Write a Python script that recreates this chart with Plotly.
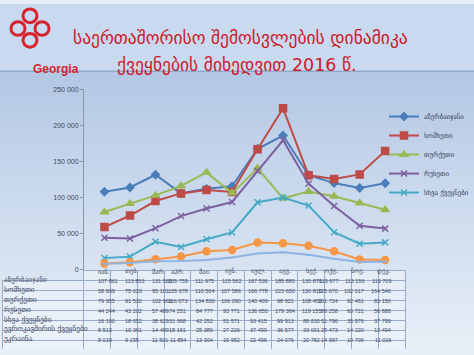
import plotly.graph_objects as go

months = ["იან.", "თებ.", "მარ.", "აპრ.", "მაი.", "ივნ.", "ივლ.", "აგვ.", "სექ.", "ოქტ.", "ნოე.", "დეკ."]
countries = ["აზერბაიჯანი", "სომხეთი", "თურქეთი", "რუსეთი", "სხვა ქვეყნები", "ევროკავშირის ქვეყნები", "უკრაინა"]
azerbaijan = [107861, 113853, 131565, 105759, 111975, 115562, 167536, 185880, 130870, 119977, 113156, 119709]
armenia = [58999, 75033, 95101, 105678, 110564, 107586, 166778, 223650, 130815, 125670, 132017, 164546]
turkey = [79955, 91532, 102963, 116073, 134830, 106090, 140409, 98921, 108453, 101724, 92461, 83150]
russia = [44244, 43202, 57489, 74251, 84777, 93771, 136650, 179364, 119155, 88258, 60721, 56888]
other = [16190, 18052, 38629, 31368, 42252, 51571, 93415, 99913, 88830, 51796, 35976, 37799]
eu = [8513, 10361, 14489, 18161, 25389, 27226, 37499, 36577, 33001, 25473, 14220, 13494]
ukraine = [8019, 9155, 11501, 11854, 13304, 16952, 22496, 24076, 20782, 14997, 10706, 11016]
yticks = [0, 50000, 100000, 150000, 200000, 250000]

series = [azerbaijan, armenia, turkey, russia, other, eu, ukraine]
colors = ["#4a7ebb", "#be4b48", "#98b954", "#7d60a0", "#46aac5", "#f79646", "#8eb4e3"]
symbols = ["diamond", "square", "triangle-up", "x-thin", "x-thin", "circle", "line-ew"]
msizes = [6, 7, 7, 6, 6, 7, 4]

W, H = 474, 355
def py(p):
    return 1 - p / H
def px(p):
    return p / W

def fmt(v):
    return "{:,}".format(v).replace(",", " ")

fig = go.Figure()

shapes = []
annotations = []
# background gradient bands
top, bot = 69, 355
n = 40
c1 = (180, 200, 229)
c2 = (232, 239, 248)
for i in range(n):
    t = i / (n - 1)
    c = tuple(int(c1[k] + (c2[k] - c1[k]) * t) for k in range(3))
    y0 = top + (bot - top) * i / n
    y1 = top + (bot - top) * (i + 1) / n + 0.5
    shapes.append(dict(type="rect", xref="paper", yref="paper", x0=0, x1=1,
                       y0=py(y1), y1=py(y0), fillcolor="rgb(%d,%d,%d)" % c,
                       line=dict(width=0), layer="below"))
# header band
shapes.append(dict(type="rect", xref="paper", yref="paper", x0=0, x1=1, y0=py(68), y1=1,
                   fillcolor="#c9d9ef", line=dict(width=0), layer="below"))
shapes.append(dict(type="line", xref="paper", yref="paper", x0=0, x1=1, y0=py(68.5), y1=py(68.5),
                   line=dict(color="#8fa9cc", width=1.5), layer="below"))
# simple logo petals
for (cx, cy) in [(30, 12), (18, 25), (42, 25), (30, 37)]:
    r = 7
    shapes.append(dict(type="circle", xref="paper", yref="paper",
                       x0=px(cx - r), x1=px(cx + r), y0=py(cy + r), y1=py(cy - r),
                       line=dict(color="#d7232f", width=3), fillcolor="rgba(0,0,0,0)"))

# table geometry
tx0, cw, lab_x0 = 84, 26.8, 2
hy0, rh = 272, 10
tx1 = tx0 + cw * 12
ty1 = hy0 + rh * 8

# grid drawn by a table with empty cells; text placed as annotations
gcol = "#98acca"
fig.add_trace(go.Table(
    domain=dict(x=[px(lab_x0), px(tx1)], y=[py(ty1), py(hy0)]),
    columnwidth=[tx0 - lab_x0] + [cw] * 12,
    header=dict(values=[""] * 13, height=rh,
                fill=dict(color=["rgba(0,0,0,0)"] + ["rgba(238,243,250,0.6)"] * 12),
                line=dict(color=["rgba(0,0,0,0)"] + [gcol] * 12, width=1)),
    cells=dict(values=[[""] * 7 for _ in range(13)], height=rh,
               fill=dict(color="rgba(238,243,250,0.6)"),
               line=dict(color=gcol, width=1)),
))

tfont = dict(family="Liberation Sans, DejaVu Sans", size=5.5, color="#3e4a5e")
mfont = dict(family="DejaVu Sans", size=6.3, color="#3e4a5e")
gfont = dict(family="DejaVu Sans", size=7.3, color="#3e4a5e")
for j, m in enumerate(months):
    annotations.append(dict(text=m, x=px(tx0 + cw * (j + 0.5)), y=py(hy0 + rh / 2),
                            xref="paper", yref="paper", showarrow=False, font=mfont,
                            borderpad=0))
for i, s in enumerate(series):
    yc = py(hy0 + rh * (i + 1.5))
    annotations.append(dict(text=countries[i], x=px(lab_x0 + 1), y=yc, xanchor="left",
                            xref="paper", yref="paper", showarrow=False, font=gfont,
                            borderpad=0))
    for j in range(12):
        annotations.append(dict(text=fmt(s[j]), x=px(tx0 + cw * (j + 0.5)), y=yc,
                                xref="paper", yref="paper", showarrow=False, font=tfont,
                                borderpad=0))

for i in range(7):
    fig.add_trace(go.Scatter(
        x=months, y=series[i], name=countries[i], mode="lines+markers",
        line=dict(color=colors[i], width=2),
        marker=dict(symbol=symbols[i], size=msizes[i], color=colors[i],
                    line=dict(color=colors[i], width=1.5)),
        showlegend=i < 5,
    ))

annotations += [
    dict(text="საერთაშორისო შემოსვლების დინამიკა", x=px(240), y=py(22), xref="paper", yref="paper",
         showarrow=False, font=dict(family="DejaVu Sans", size=17.5, color="#cc1a28")),
    dict(text="ქვეყნების მიხედვით 2016 წ.", x=px(237), y=py(50), xref="paper", yref="paper",
         showarrow=False, font=dict(family="DejaVu Sans", size=17.5, color="#cc1a28")),
    dict(text="<b>Georgia</b>", x=px(31), y=py(57), xref="paper", yref="paper",
         showarrow=False, font=dict(family="Liberation Sans", size=12, color="#d7232f")),
]

fig.update_layout(
    width=W, height=H, margin=dict(l=0, r=0, t=0, b=0),
    paper_bgcolor="rgba(0,0,0,0)", plot_bgcolor="rgba(0,0,0,0)",
    shapes=shapes, annotations=annotations,
    xaxis=dict(domain=[px(tx0), px(tx1)], showticklabels=False, showgrid=False,
               zeroline=False, showline=True, linecolor="#8896aa", linewidth=1),
    yaxis=dict(domain=[py(271), py(87)], range=[0, 250000], tickvals=yticks,
               ticktext=[fmt(v) for v in yticks], showgrid=False, zeroline=False,
               showline=True, linecolor="#8896aa", linewidth=1, ticks="outside",
               ticklen=3, tickcolor="#8896aa",
               tickfont=dict(family="Liberation Sans", size=7, color="#3e4a5e")),
    legend=dict(x=px(384), y=py(100), xanchor="left", yanchor="top",
                bgcolor="rgba(0,0,0,0)", font=dict(family="DejaVu Sans", size=6.8, color="#303a50"),
                tracegroupgap=0, itemwidth=30),
)

fig.write_html("out.html", config={"displayModeBar": False},
               post_script="document.body.style.margin='0';document.body.style.background='#e8eef8';")
